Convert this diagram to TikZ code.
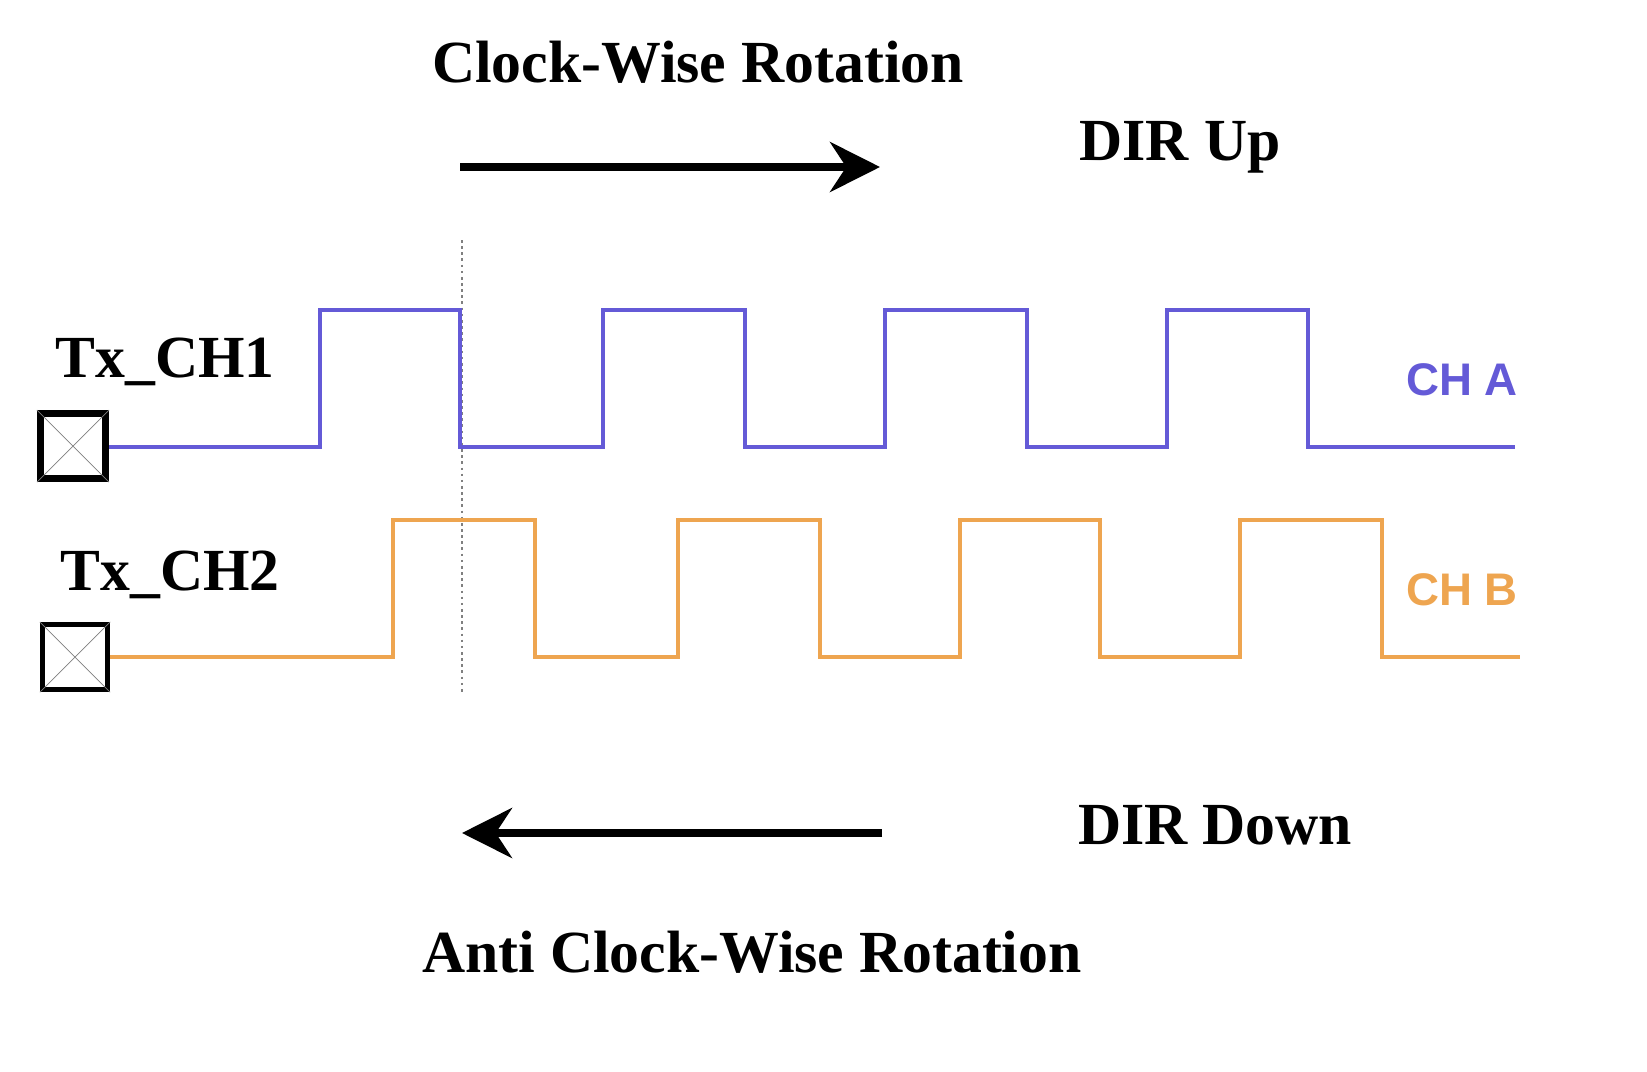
\documentclass[tikz,border=0pt]{standalone}
\usepackage{fontspec}
\setmainfont{Liberation Serif}
\setsansfont{Liberation Sans}
\usetikzlibrary{arrows.meta}
\definecolor{chA}{RGB}{100,90,215}
\definecolor{chB}{RGB}{238,165,80}
\tikzset{lbl/.style={font=\bfseries\fontsize{34}{38}\selectfont},
 chl/.style={font=\sffamily\bfseries\fontsize{26}{28}\selectfont},
 wave/.style={line width=2.8pt},
 xbox/.style={draw=black,line width=3pt,fill=white,minimum width=1.3cm,minimum height=1.3cm,inner sep=0pt},
 bigarrow/.style={line width=4pt,-{Stealth[length=1cm,width=1cm]}}}
\begin{document}
\begin{tikzpicture}[x=0.02cm,y=-0.02cm]
\useasboundingbox (0,0) rectangle (1647,1072);
\node[lbl] (t1) at (698,62) {Clock-Wise Rotation};
\node[lbl] (t2) at (752,952) {Anti Clock-Wise Rotation};
\node[lbl] (d1) at (1180,147) {DIR Up};
\node[lbl] (d2) at (1215,825) {DIR Down};
\node[lbl] (c1) at (165,362) {Tx\_CH1};
\node[lbl] (c2) at (170,575) {Tx\_CH2};
\node[chl,text=chA] (la) at (1462,380) {CH A};
\node[chl,text=chB] (lb) at (1462,590) {CH B};
\coordinate (a1) at (460,167); \coordinate (a2) at (880,167);
\coordinate (b1) at (882,833); \coordinate (b2) at (462,833);
\draw[bigarrow] (a1) -- (a2);
\draw[bigarrow] (b1) -- (b2);
\coordinate (v1) at (462,240); \coordinate (v2) at (462,692);
\draw[gray,dotted,line width=1.5pt] (v1) -- (v2);
\draw[wave,chA] (107,447) -- (320,447) -- (320,310) -- (460,310) -- (460,447) -- (603,447) -- (603,310) -- (745,310) -- (745,447) -- (885,447) -- (885,310) -- (1027,310) -- (1027,447) -- (1167,447) -- (1167,310) -- (1308,310) -- (1308,447) -- (1515,447);
\draw[wave,chB] (107,657) -- (393,657) -- (393,520) -- (535,520) -- (535,657) -- (678,657) -- (678,520) -- (820,520) -- (820,657) -- (960,657) -- (960,520) -- (1100,520) -- (1100,657) -- (1240,657) -- (1240,520) -- (1382,520) -- (1382,657) -- (1520,657);
\node[xbox,line width=4pt] (x1) at (73,446) {};
\draw[gray] (x1.north west) -- (x1.south east) (x1.north east) -- (x1.south west);
\node[xbox] (x2) at (75,657) {};
\draw[gray] (x2.north west) -- (x2.south east) (x2.north east) -- (x2.south west);
\end{tikzpicture}
\end{document}
